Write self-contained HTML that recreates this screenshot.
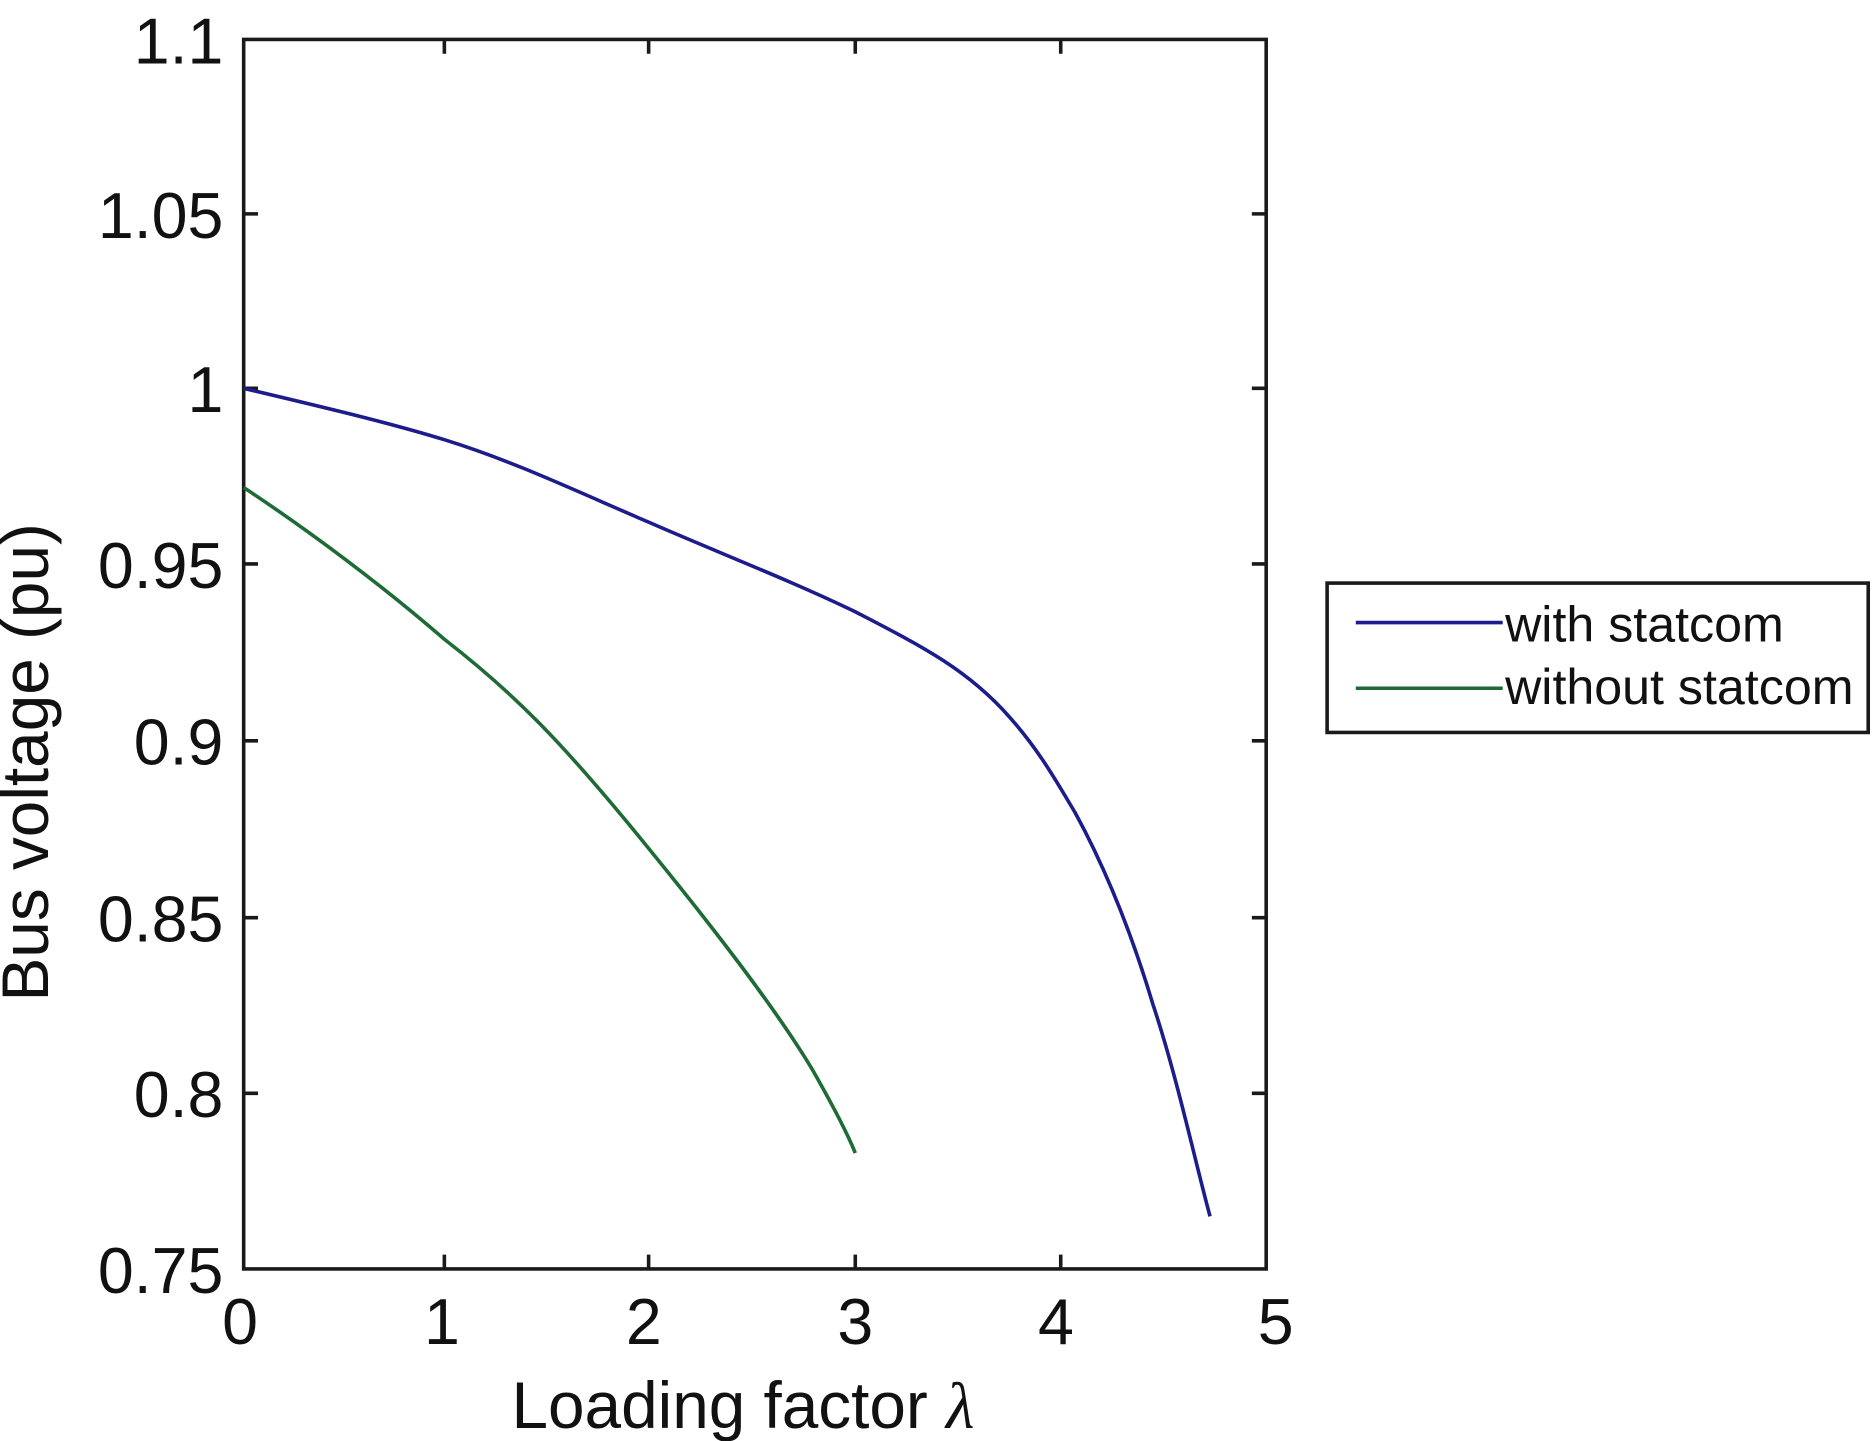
<!DOCTYPE html>
<html><head><meta charset="utf-8"><style>html,body{margin:0;padding:0;background:#fff;}svg{display:block;}</style></head>
<body>
<svg width="1873" height="1441" viewBox="0 0 1568 1206" preserveAspectRatio="none" xmlns="http://www.w3.org/2000/svg" font-family="Liberation Sans, Arial, sans-serif">
<rect width="1568" height="1206" fill="#fff"/>
<g stroke="#1a1a1a" stroke-width="3" fill="none">
<rect x="204" y="33" width="856" height="1029"/>
<path d="M204 179h12M204 325h12M204 472h12M204 620h12M204 768h12M204 915h12
M1060 179h-12M1060 325h-12M1060 472h-12M1060 620h-12M1060 768h-12M1060 915h-12
M372 1062v-12M543 1062v-12M716 1062v-12M888 1062v-12
M372 33v12M543 33v12M716 33v12M888 33v12"/>
</g>
<g font-size="54" fill="#111" text-anchor="end">
<text x="187" y="53">1.1</text>
<text x="187" y="199">1.05</text>
<text x="187" y="345">1</text>
<text x="187" y="492">0.95</text>
<text x="187" y="640">0.9</text>
<text x="187" y="788">0.85</text>
<text x="187" y="935">0.8</text>
<text x="187" y="1082">0.75</text>
</g>
<g font-size="54" fill="#111" text-anchor="middle">
<text x="201" y="1125">0</text>
<text x="370" y="1125">1</text>
<text x="539" y="1125">2</text>
<text x="716" y="1125">3</text>
<text x="884" y="1125">4</text>
<text x="1068" y="1125">5</text>
<text x="622" y="1195" font-size="55">Loading factor <tspan font-family="Liberation Serif, serif" font-style="italic">λ</tspan></text>
<text transform="translate(40,638) rotate(-90)" font-size="55">Bus voltage (pu)</text>
</g>
<path fill="none" stroke="#1c1c8c" stroke-width="3" d="M204,325 C280,343 330,355 372,368 C430,386 480,410 543,437 C600,462 660,485 716,512 C770,540 810,560 845,600 C870,628 885,655 900,680 C930,735 950,790 965,840 C985,900 1000,970 1013,1018"/>
<path fill="none" stroke="#1e6b35" stroke-width="3" d="M204,408 C260,445 320,490 372,535 C430,580 470,620 543,710 C600,780 650,845 680,895 C700,930 710,950 716,965"/>
<rect x="1111" y="488" width="453" height="125" fill="#fff" stroke="#1a1a1a" stroke-width="3"/>
<line x1="1135" y1="521" x2="1258" y2="521" stroke="#1c1c8c" stroke-width="3"/>
<line x1="1135" y1="576" x2="1258" y2="576" stroke="#1e6b35" stroke-width="3"/>
<g font-size="42" fill="#111">
<text x="1260" y="537">with statcom</text>
<text x="1260" y="589">without statcom</text>
</g>
</svg>
</body></html>
